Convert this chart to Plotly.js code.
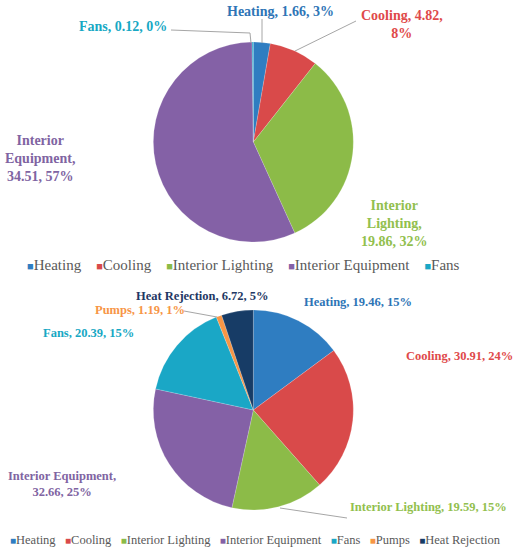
<!DOCTYPE html>
<html>
<head>
<meta charset="utf-8">
<script src="https://cdn.plot.ly/plotly-3.0.1.min.js"></script>
<style>html,body{margin:0;padding:0;background:#fff;}#chart{width:517px;height:550px;}</style>
</head>
<body>
<div id="chart"></div>
<script>
// Top chart (5 end uses)
var categoriesA = ["Heating", "Cooling", "Interior Lighting", "Interior Equipment", "Fans"];
var valuesA = [1.66, 4.82, 19.86, 34.51, 0.12];
var pctLabelsA = ["3%", "8%", "32%", "57%", "0%"];

// Bottom chart (7 end uses)
var categoriesB = ["Heating", "Cooling", "Interior Lighting", "Interior Equipment", "Fans", "Pumps", "Heat Rejection"];
var valuesB = [19.46, 30.91, 19.59, 32.66, 20.39, 1.19, 6.72];
var pctLabelsB = ["15%", "24%", "15%", "25%", "15%", "1%", "5%"];

var colorMap = {
  "Heating": "#2f7dc1",
  "Cooling": "#d94a4a",
  "Interior Lighting": "#8cbb48",
  "Interior Equipment": "#8461a6",
  "Fans": "#1aa7c6",
  "Pumps": "#f79646",
  "Heat Rejection": "#173c66"
};
var labelColorMap = {
  "Heating": "#2e75b6",
  "Cooling": "#e04a4a",
  "Interior Lighting": "#92c04e",
  "Interior Equipment": "#8064a2",
  "Fans": "#17a8c4",
  "Pumps": "#f79646",
  "Heat Rejection": "#1f3864"
};

var serif = "'Liberation Serif', 'Times New Roman', serif";
var W = 517, H = 550;
function px(x) { return x / W; }
function py(y) { return 1 - y / H; }

function pieTrace(cats, vals, dom) {
  return {
    type: "pie",
    labels: cats,
    values: vals,
    textinfo: "none",
    hoverinfo: "label+value+percent",
    sort: false,
    direction: "clockwise",
    rotation: 0,
    showlegend: false,
    marker: { colors: cats.map(function (c) { return colorMap[c]; }), line: { color: "rgba(255,255,255,0.35)", width: 0.5 } },
    domain: dom
  };
}

var traceA = pieTrace(categoriesA, valuesA, { x: [0.05, 0.93], y: [py(242), py(42)] });
var traceB = pieTrace(categoriesB, valuesB, { x: [0.05, 0.93], y: [py(510), py(310)] });

// Data-label text built from the arrays; layout (line breaks / placement) kept separately
function dataLabel(cats, vals, pcts, i, layoutKind) {
  var c = cats[i], v = vals[i].toFixed(2), p = pcts[i];
  if (layoutKind === "wrapName") {
    var parts = c.split(" ");
    return parts[0] + "<br>" + parts.slice(1).join(" ") + ",<br>" + v + ", " + p;
  }
  if (layoutKind === "wrapValue") return c + ",<br>" + v + ", " + p;
  if (layoutKind === "wrapPct") return c + ", " + v + ",<br>" + p;
  return c + ", " + v + ", " + p;
}

// placement of each label: [center x px, center y px, wrapping, font size]
var placeA = [
  [280, 11, "line", 14],
  [402, 25, "wrapPct", 14],
  [394, 224, "wrapName", 14],
  [40, 158, "wrapName", 14],
  [123, 27, "line", 14]
];
var placeB = [
  [358, 302, "line", 12.5],
  [459, 356, "line", 12.5],
  [428, 507, "line", 12.5],
  [62, 484, "wrapValue", 12.5],
  [88, 333, "line", 12.5],
  [140, 310, "line", 12.5],
  [202, 296, "line", 12.5]
];

var annotations = [];
function addLabels(cats, vals, pcts, place) {
  cats.forEach(function (c, i) {
    var p = place[i];
    annotations.push({
      xref: "paper", yref: "paper", x: px(p[0]), y: py(p[1]),
      xanchor: "center", yanchor: "middle", showarrow: false, align: "center",
      text: "<b>" + dataLabel(cats, vals, pcts, i, p[2]) + "</b>",
      font: { family: serif, size: p[3], color: labelColorMap[c] }
    });
  });
}
addLabels(categoriesA, valuesA, pctLabelsA, placeA);
addLabels(categoriesB, valuesB, pctLabelsB, placeB);

function legendText(cats, sq, gap) {
  return cats.map(function (c) {
    return "<span style='color:" + colorMap[c] + ";font-size:" + sq + "px'>■</span>" + c;
  }).join(gap);
}
annotations.push({ xref: "paper", yref: "paper", x: px(243), y: py(265), xanchor: "center", yanchor: "middle",
  showarrow: false, text: legendText(categoriesA, 11, "&nbsp;&nbsp;&nbsp;&nbsp;"), font: { family: serif, size: 15, color: "#595959" } });
annotations.push({ xref: "paper", yref: "paper", x: px(255), y: py(540), xanchor: "center", yanchor: "middle",
  showarrow: false, text: legendText(categoriesB, 10, "&nbsp;&nbsp;&nbsp;"), font: { family: serif, size: 12.5, color: "#595959" } });

// leader lines
var leaderStyle = { color: "#a6a6a6", width: 1 };
function leader(path) {
  return { type: "path", xref: "paper", yref: "paper", path: path, line: leaderStyle };
}
function P(x, y) { return px(x) + "," + py(y); }
var shapes = [
  leader("M" + P(171, 30) + " L" + P(250, 33) + " L" + P(251, 43)),
  leader("M" + P(262, 19) + " L" + P(262, 43)),
  leader("M" + P(356, 21) + " L" + P(295, 51)),
  leader("M" + P(184, 311) + " L" + P(217, 317)),
  leader("M" + P(280, 508) + " L" + P(347, 518))
];

var layout = {
  width: W,
  height: H,
  margin: { l: 0, r: 0, t: 0, b: 0 },
  paper_bgcolor: "#ffffff",
  font: { family: serif },
  showlegend: false,
  annotations: annotations,
  shapes: shapes
};

Plotly.newPlot("chart", [traceA, traceB], layout, { displayModeBar: false, staticPlot: true });
</script>
</body>
</html>
